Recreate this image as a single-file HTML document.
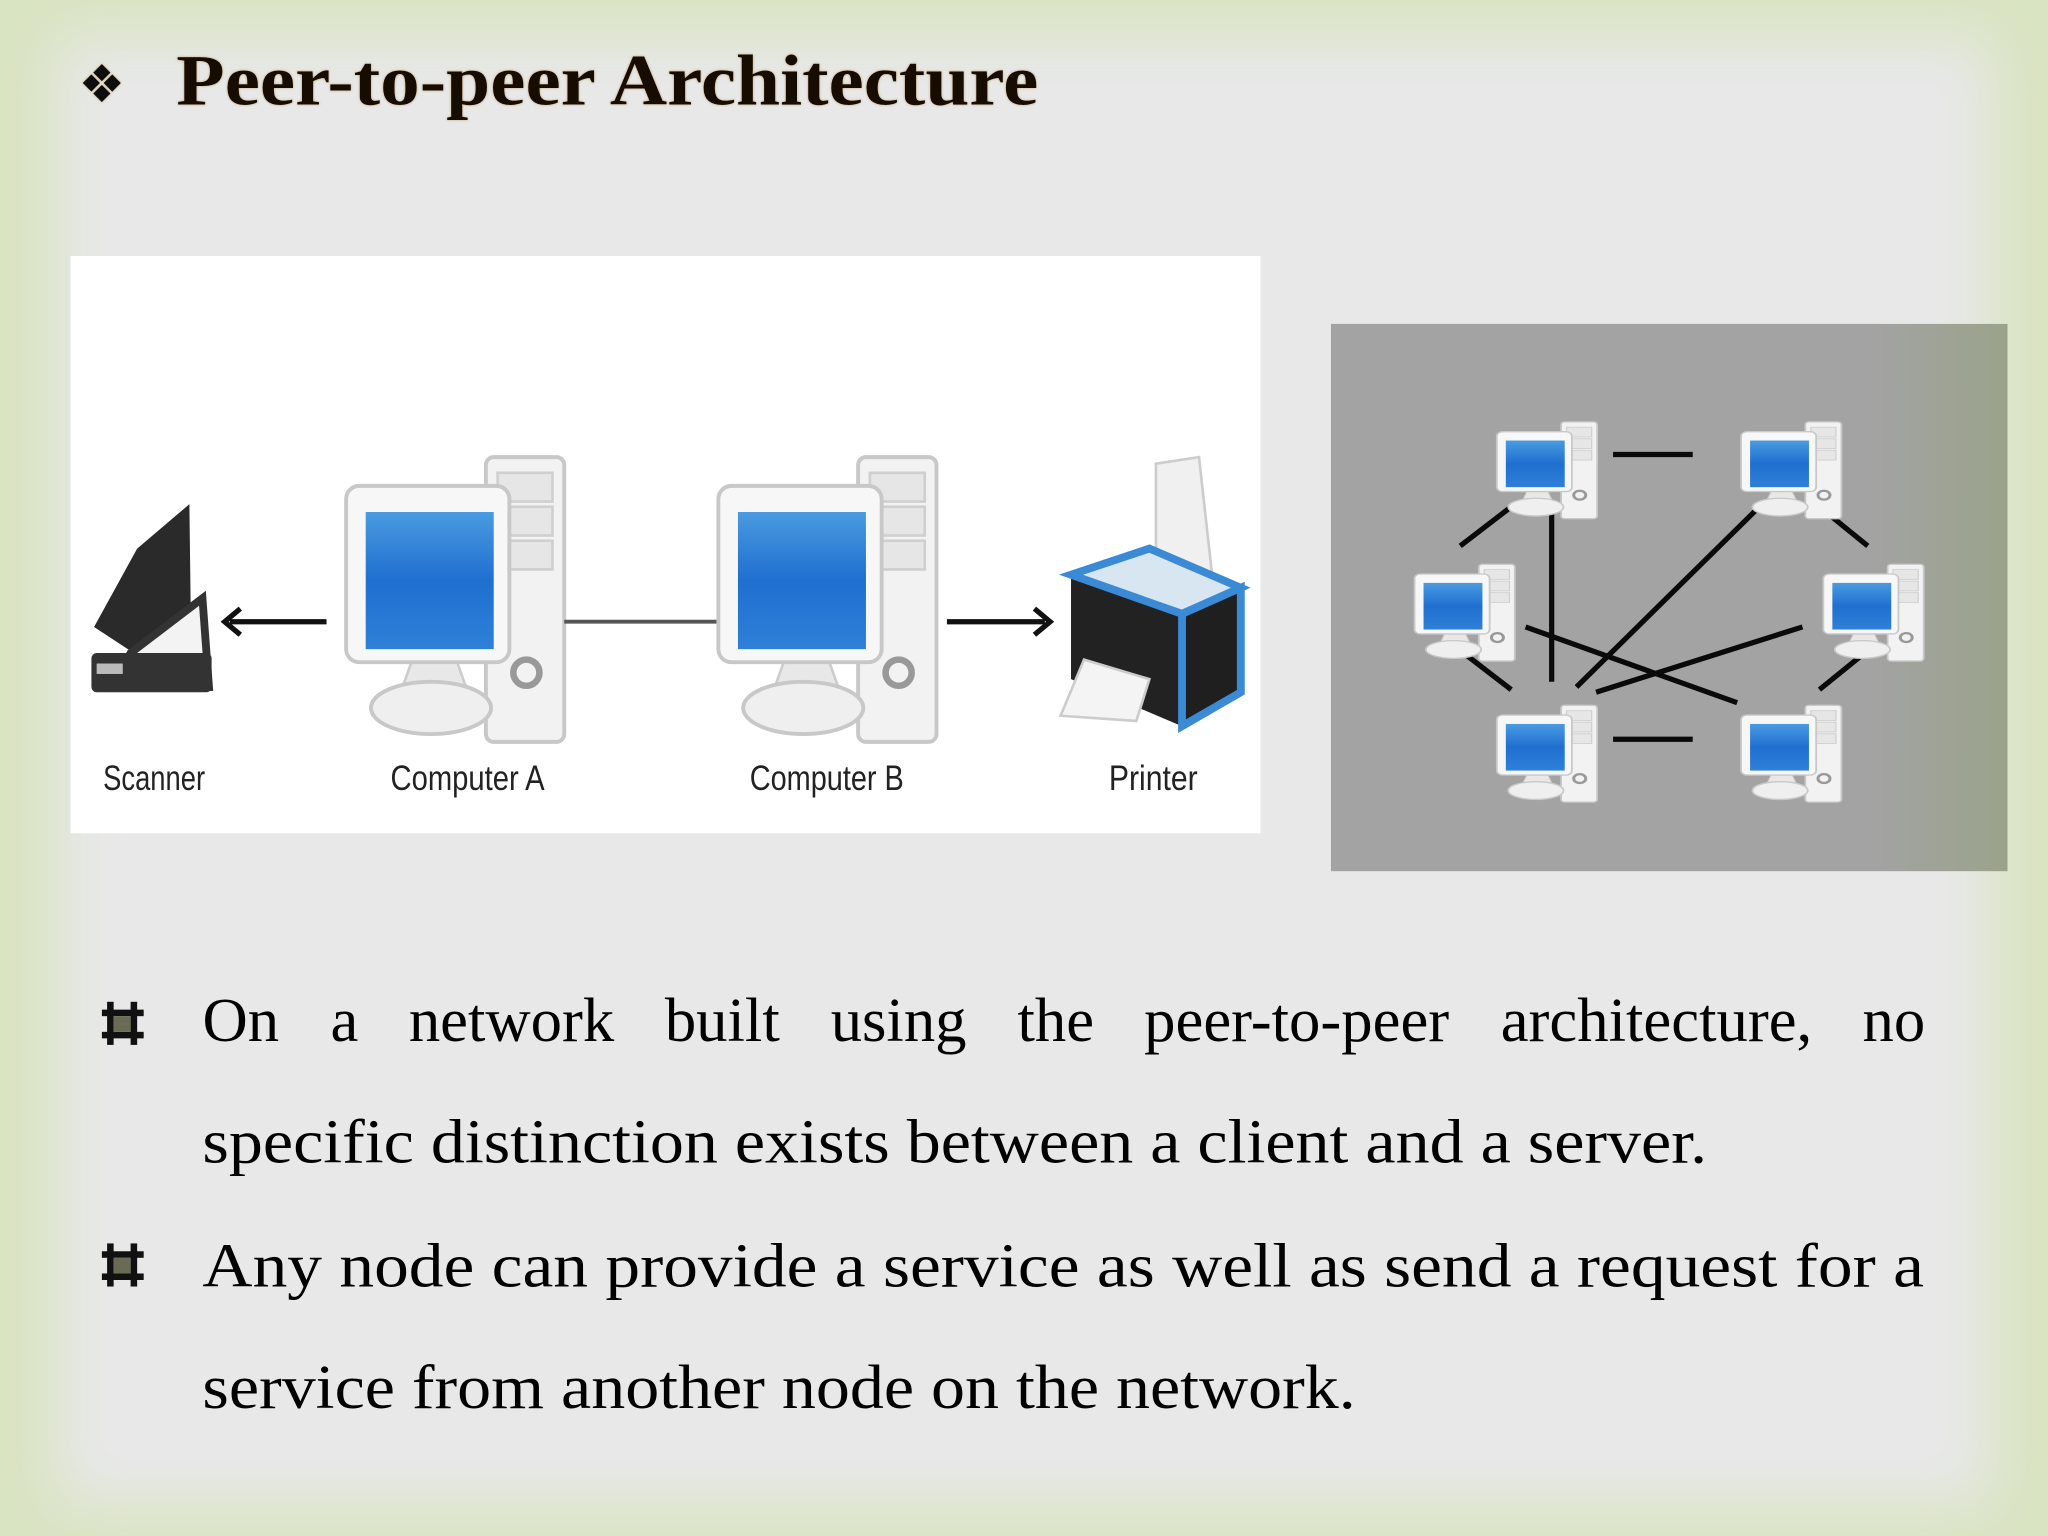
<!DOCTYPE html>
<html><head><meta charset="utf-8"><style>
html,body{margin:0;padding:0;width:2048px;height:1536px;overflow:hidden;background:#d9e4c2}
svg{display:block}
</style></head><body>
<svg width="2048" height="1536" viewBox="0 0 1568 1176" xmlns="http://www.w3.org/2000/svg">
<defs>
<filter id="blur" x="-10%" y="-10%" width="120%" height="120%"><feGaussianBlur stdDeviation="22"/></filter>
<filter id="tsh" x="-5%" y="-20%" width="110%" height="150%"><feGaussianBlur in="SourceAlpha" stdDeviation="2"/><feOffset dx="3" dy="4"/><feFlood flood-color="#b08040" flood-opacity="0.7"/><feComposite operator="in" in2="SourceAlpha"/><feGaussianBlur stdDeviation="1"/><feMerge><feMergeNode/><feMergeNode in="SourceGraphic"/></feMerge></filter>
<linearGradient id="scr" x1="0" y1="0" x2="0" y2="1"><stop offset="0" stop-color="#4a9be0"/><stop offset="0.5" stop-color="#1f6fd0"/><stop offset="1" stop-color="#2f80d8"/></linearGradient>
<linearGradient id="gr" x1="0" y1="0" x2="1" y2="0"><stop offset="0.8" stop-color="#a3a3a3"/><stop offset="1" stop-color="#9aa38a"/></linearGradient>
<g id="pc">
<rect x="107" y="0" width="60" height="218" rx="6" fill="#f2f2f2" stroke="#c8c8c8" stroke-width="3"/>
<rect x="116" y="12" width="42" height="22" fill="#e6e6e6" stroke="#cfcfcf" stroke-width="2"/>
<rect x="116" y="38" width="42" height="22" fill="#e6e6e6" stroke="#cfcfcf" stroke-width="2"/>
<rect x="116" y="64" width="42" height="22" fill="#e6e6e6" stroke="#cfcfcf" stroke-width="2"/>
<circle cx="138" cy="165" r="10" fill="none" stroke="#999" stroke-width="5"/>
<path d="M50 157 h35 l10 28 h-55z" fill="#e8e8e8" stroke="#ccc" stroke-width="2"/>
<ellipse cx="65" cy="192" rx="46" ry="20" fill="#efefef" stroke="#c8c8c8" stroke-width="3"/>
<rect x="0" y="22" width="125" height="135" rx="10" fill="#f7f7f7" stroke="#c8c8c8" stroke-width="3"/>
<rect x="15" y="42" width="98" height="105" fill="url(#scr)"/>
</g>
</defs>
<rect width="1568" height="1176" fill="#d9e4c2"/>
<rect x="45" y="30" width="1478" height="1120" fill="#e8e8e9" filter="url(#blur)"/>
<!-- title -->
<text x="60" y="78" font-family="'DejaVu Sans',sans-serif" font-size="40" fill="#111" filter="url(#tsh)">❖</text>
<text x="135" y="80" font-family="'Liberation Serif',serif" font-weight="bold" font-size="55" fill="#140c00" textLength="660" lengthAdjust="spacingAndGlyphs" filter="url(#tsh)">Peer-to-peer Architecture</text>
<!-- left image -->
<rect x="54" y="196" width="911" height="442" fill="#ffffff"/>
<!-- scanner -->
<path d="M72 480 L105 420 L145 386 L146 466 L110 505z" fill="#2a2a2a"/>
<path d="M100 500 L155 458 L160 526 L85 526z" fill="#f3f3f3" stroke="#333" stroke-width="6"/>
<rect x="70" y="500" width="92" height="30" rx="4" fill="#333"/>
<rect x="74" y="508" width="20" height="8" fill="#bbb"/>
<line x1="250" y1="476" x2="176" y2="476" stroke="#111" stroke-width="4"/>
<path d="M184 466 L172 476 L184 486" fill="none" stroke="#111" stroke-width="4"/>
<use href="#pc" x="265" y="350"/>
<line x1="432" y1="476" x2="550" y2="476" stroke="#555" stroke-width="3"/>
<use href="#pc" x="550" y="350"/>
<line x1="725" y1="476" x2="800" y2="476" stroke="#111" stroke-width="4"/>
<path d="M792 466 L804 476 L792 486" fill="none" stroke="#111" stroke-width="4"/>
<!-- printer -->
<path d="M885 355 L918 350 L928 440 L885 455z" fill="#f0f0f0" stroke="#ccc" stroke-width="2"/>
<path d="M820 440 L880 420 L950 450 L950 530 L905 556 L820 520z" fill="#222"/>
<path d="M820 440 L880 420 L950 450 L905 470z" fill="#d8e6f2" stroke="#3b8ad6" stroke-width="6"/>
<path d="M905 470 L950 450 L950 530 L905 556z" fill="#1f1f1f" stroke="#3b8ad6" stroke-width="6"/>
<path d="M830 505 L880 520 L870 552 L812 548z" fill="#f4f4f4" stroke="#ccc" stroke-width="2"/>
<g font-family="'Liberation Sans Narrow','Liberation Sans',sans-serif" font-size="27" fill="#222" text-anchor="middle">
<text x="118" y="605" textLength="78" lengthAdjust="spacingAndGlyphs">Scanner</text>
<text x="358" y="605" textLength="118" lengthAdjust="spacingAndGlyphs">Computer A</text>
<text x="633" y="605" textLength="118" lengthAdjust="spacingAndGlyphs">Computer B</text>
<text x="883" y="605" textLength="68" lengthAdjust="spacingAndGlyphs">Printer</text>
</g>
<!-- network -->
<rect x="1019" y="248" width="518" height="419" fill="url(#gr)"/>
<g stroke="#0a0a0a" stroke-width="4" stroke-linecap="butt">
<line x1="1235" y1="348" x2="1296" y2="348"/>
<line x1="1235" y1="566" x2="1296" y2="566"/>
<line x1="1157" y1="388" x2="1118" y2="418"/>
<line x1="1118" y1="498" x2="1157" y2="528"/>
<line x1="1393" y1="388" x2="1430" y2="418"/>
<line x1="1430" y1="498" x2="1393" y2="528"/>
<line x1="1188" y1="392" x2="1188" y2="522"/>
<line x1="1345" y1="390" x2="1207" y2="526"/>
<line x1="1168" y1="480" x2="1330" y2="538"/>
<line x1="1380" y1="480" x2="1222" y2="530"/>
</g>
<g transform="translate(1146,323) scale(0.46,0.34)"><use href="#pc"/></g>
<g transform="translate(1333,323) scale(0.46,0.34)"><use href="#pc"/></g>
<g transform="translate(1083,432) scale(0.46,0.34)"><use href="#pc"/></g>
<g transform="translate(1396,432) scale(0.46,0.34)"><use href="#pc"/></g>
<g transform="translate(1146,540) scale(0.46,0.34)"><use href="#pc"/></g>
<g transform="translate(1333,540) scale(0.46,0.34)"><use href="#pc"/></g>
<!-- bullets -->
<g fill="#111">
<g transform="translate(78,767)">
<rect x="4" y="0" width="5" height="33"/><rect x="22" y="0" width="5" height="33"/>
<rect x="0" y="6" width="32" height="5"/><rect x="0" y="23" width="32" height="5"/>
<rect x="9" y="11" width="13" height="12" fill="#6b6b55"/>
</g>
<g transform="translate(78,952)">
<rect x="4" y="0" width="5" height="33"/><rect x="22" y="0" width="5" height="33"/>
<rect x="0" y="6" width="32" height="5"/><rect x="0" y="23" width="32" height="5"/>
<rect x="9" y="11" width="13" height="12" fill="#6b6b55"/>
</g>
</g>
<g font-family="'Liberation Serif',serif" font-size="48" fill="#000">
<text y="797"><tspan x="155">On</tspan><tspan x="253">a</tspan><tspan x="313">network</tspan><tspan x="509">built</tspan><tspan x="636">using</tspan><tspan x="779">the</tspan><tspan x="876">peer-to-peer</tspan><tspan x="1149">architecture,</tspan><tspan x="1426">no</tspan></text>
<text x="155" y="890" textLength="1152" lengthAdjust="spacingAndGlyphs">specific distinction exists between a client and a server.</text>
<text x="155" y="985" textLength="1318" lengthAdjust="spacingAndGlyphs">Any node can provide a service as well as send a  request for a</text>
<text x="155" y="1078" textLength="883" lengthAdjust="spacingAndGlyphs">service from another node on the network.</text>
</g>
</svg>
</body></html>
